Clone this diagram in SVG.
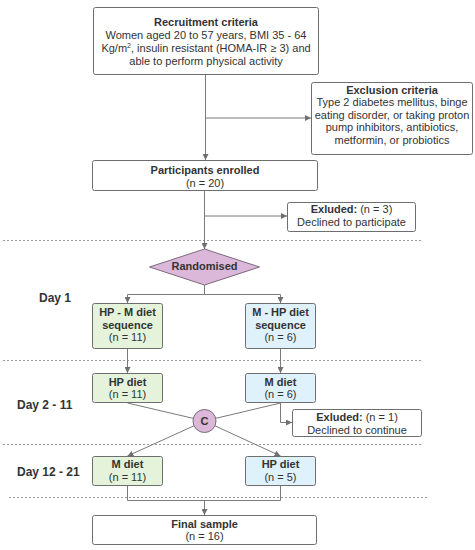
<svg xmlns="http://www.w3.org/2000/svg" width="475" height="550" viewBox="0 0 475 550">
<defs>
<marker id="arr" viewBox="0 0 6 6" refX="6" refY="3" markerWidth="6" markerHeight="6" orient="auto" markerUnits="userSpaceOnUse">
<path d="M0,0 L6,3 L0,6 z" fill="#6f6f6f"/>
</marker>
<style>
text{font-family:"Liberation Sans",Arial,sans-serif;font-size:11px;fill:#333;text-anchor:middle}
.b{font-weight:bold}
.day{font-weight:bold;font-size:12px;text-anchor:start;fill:#333}
.box{fill:#fff;stroke:#6e6e6e;stroke-width:1}
.g{fill:#e4f3da;stroke:#6e6e6e;stroke-width:1}
.bl{fill:#dff1fb;stroke:#6e6e6e;stroke-width:1}
.c{fill:none;stroke:#7a7a7a;stroke-width:1}
.ca{fill:none;stroke:#7a7a7a;stroke-width:1;marker-end:url(#arr)}
.dot{stroke:#9a9a9a;stroke-width:1;stroke-dasharray:2,2;fill:none}
</style>
</defs>
<rect width="475" height="550" fill="#fff"/>
<g id="separators">
<line class="dot" x1="3" y1="240.5" x2="422" y2="240.5"/>
<line class="dot" x1="3" y1="360.5" x2="422" y2="360.5"/>
<line class="dot" x1="3" y1="444.5" x2="422" y2="444.5"/>
<line class="dot" x1="9" y1="497.5" x2="428" y2="497.5"/>
</g>
<g id="day-labels">
<text class="day" x="39" y="302">Day 1</text>
<text class="day" x="17" y="409">Day 2 - 11</text>
<text class="day" x="17" y="476">Day 12 - 21</text>
</g>
<g id="connectors">
<line class="ca" x1="205.5" y1="74" x2="205.5" y2="160"/>
<line class="ca" x1="205.5" y1="118" x2="311" y2="118"/>
<line class="ca" x1="204.5" y1="190" x2="204.5" y2="249"/>
<line class="ca" x1="204.5" y1="216" x2="287" y2="216"/>
<polyline class="c" points="204.5,285 204.5,294.5"/>
<polyline class="ca" points="204.5,294.5 127.5,294.5 127.5,303"/>
<polyline class="ca" points="204.5,294.5 280.5,294.5 280.5,303"/>
<line class="ca" x1="127.5" y1="349" x2="127.5" y2="373"/>
<line class="ca" x1="280.5" y1="349" x2="280.5" y2="373"/>
<polyline class="c" points="127.5,403 204.5,421"/>
<polyline class="c" points="280.5,403 204.5,421"/>
<polyline class="ca" points="204.5,421 127.5,456"/>
<polyline class="ca" points="204.5,421 280.5,456"/>
<polyline class="ca" points="280.5,403 280.5,422.5 292,422.5"/>
<polyline class="c" points="127.5,485 127.5,500.5 280.5,500.5 280.5,485"/>
<line class="ca" x1="204.5" y1="500.5" x2="204.5" y2="515"/>
</g>
<g id="recruitment">
<rect class="box" x="93.5" y="7.5" width="225" height="67" rx="2"/>
<text class="b" x="206" y="26">Recruitment criteria</text>
<text x="206" y="39">Women aged 20 to 57 years, BMI 35 - 64</text>
<text x="206" y="52">Kg/m<tspan font-size="7" dy="-4">2</tspan><tspan dy="4">, insulin resistant (HOMA-IR ≥ 3) and</tspan></text>
<text x="206" y="65">able to perform physical activity</text>
</g>
<g id="exclusion">
<rect class="box" x="311.5" y="82.5" width="161" height="72" rx="2"/>
<text class="b" x="392" y="94">Exclusion criteria</text>
<text x="392" y="106">Type 2 diabetes mellitus, binge</text>
<text x="392" y="118.5">eating disorder, or taking proton</text>
<text x="392" y="131">pump inhibitors, antibiotics,</text>
<text x="392" y="143.5">metformin, or probiotics</text>
</g>
<g id="enrolled">
<rect class="box" x="92.5" y="160.5" width="225" height="30" rx="2"/>
<text class="b" x="205" y="174">Participants enrolled</text>
<text x="205" y="186.5">(n = 20)</text>
</g>
<g id="excluded1">
<rect class="box" x="287.5" y="202.5" width="128" height="29" rx="2"/>
<text x="351.5" y="213"><tspan class="b">Exluded:</tspan> (n = 3)</text>
<text x="351.5" y="226">Declined to participate</text>
</g>
<g id="randomised">
<polygon points="204.5,249 259.5,267 204.5,285 149.5,267" fill="#dbb8d9" stroke="#7d6a7c" stroke-width="1"/>
<text class="b" x="204.5" y="269.5">Randomised</text>
</g>
<g id="seq-hp-m">
<rect class="g" x="92.5" y="303.5" width="70" height="45" rx="2"/>
<text class="b" x="127.5" y="316">HP - M diet</text>
<text class="b" x="127.5" y="328.5">sequence</text>
<text x="127.5" y="341">(n = 11)</text>
</g>
<g id="seq-m-hp">
<rect class="bl" x="245.5" y="303.5" width="70" height="45" rx="2"/>
<text class="b" x="280.5" y="316">M - HP diet</text>
<text class="b" x="280.5" y="328.5">sequence</text>
<text x="280.5" y="341">(n = 6)</text>
</g>
<g id="hp-diet-1">
<rect class="g" x="92.5" y="373.5" width="70" height="29" rx="2"/>
<text class="b" x="127.5" y="385.5">HP diet</text>
<text x="127.5" y="398">(n = 11)</text>
</g>
<g id="m-diet-1">
<rect class="bl" x="245.5" y="373.5" width="70" height="29" rx="2"/>
<text class="b" x="280.5" y="385.5">M diet</text>
<text x="280.5" y="398">(n = 6)</text>
</g>
<g id="crossover">
<circle cx="204.5" cy="421" r="11.5" fill="#dbb8d9" stroke="#7d6a7c" stroke-width="1"/>
<text class="b" x="204.5" y="425">C</text>
</g>
<g id="excluded2">
<rect class="box" x="292.5" y="409.5" width="129" height="27" rx="2"/>
<text x="357" y="421"><tspan class="b">Exluded:</tspan> (n = 1)</text>
<text x="357" y="433.5">Declined to continue</text>
</g>
<g id="m-diet-2">
<rect class="g" x="92.5" y="456.5" width="70" height="29" rx="2"/>
<text class="b" x="127.5" y="468">M diet</text>
<text x="127.5" y="481">(n = 11)</text>
</g>
<g id="hp-diet-2">
<rect class="bl" x="245.5" y="456.5" width="70" height="29" rx="2"/>
<text class="b" x="280.5" y="468">HP diet</text>
<text x="280.5" y="481">(n = 5)</text>
</g>
<g id="final">
<rect class="box" x="92.5" y="515.5" width="224" height="29" rx="2"/>
<text class="b" x="204.5" y="527.5">Final sample</text>
<text x="204.5" y="540">(n = 16)</text>
</g>
</svg>
